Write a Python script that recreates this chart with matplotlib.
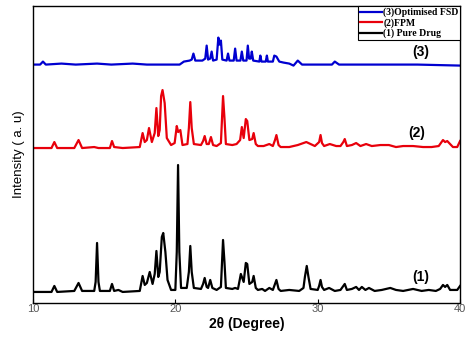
import numpy as np
import matplotlib
matplotlib.use("Agg")
import matplotlib.pyplot as plt
from matplotlib.lines import Line2D

# Difratogramas: (2theta, intensidade relativa à linha de base)
pure_drug_2theta = [10.0, 11.3, 11.5, 11.7, 12.9, 13.2, 13.45, 14.3, 14.4, 14.5, 14.6, 14.7, 15.4, 15.55, 15.7,
                    16.0, 16.3, 17.5, 17.7, 17.85, 18.0, 18.2, 18.4, 18.55, 18.67, 18.8, 18.9, 19.05, 19.15,
                    19.3, 19.45, 19.7, 20.0, 20.1, 20.19, 20.28, 20.4, 20.8, 20.95, 21.05, 21.15, 21.3, 21.8,
                    21.95, 22.06, 22.2, 22.3, 22.45, 22.6, 22.9, 23.2, 23.28, 23.35, 23.45, 23.55, 24.0, 24.2,
                    24.4, 24.6, 24.8, 24.95, 25.05, 25.2, 25.4, 25.5, 25.65, 25.8, 26.1, 26.3, 26.6, 26.85,
                    27.0, 27.1, 27.25, 27.4, 28.0, 28.7, 29.0, 29.1, 29.23, 29.35, 29.5, 30.0, 30.1, 30.2,
                    30.3, 30.45, 30.8, 31.2, 31.6, 31.8, 31.9, 32.05, 32.4, 32.7, 32.9, 33.1, 33.35, 33.6,
                    34.0, 34.5, 35.1, 35.5, 36.0, 36.7, 37.3, 37.8, 38.3, 38.6, 38.8, 38.95, 39.1, 39.3,
                    39.8, 40.0]
pure_drug_int = [0, 0, 6, 0, 1, 9, 1, 1, 10, 49, 10, 1, 1, 8, 1,
                 2, 0, 1, 16, 7, 9, 20, 8, 18, 41, 15, 20, 55, 59,
                 40, 12, 2, 2, 40, 127, 40, 4, 4, 20, 46, 20, 4, 3,
                 8, 14, 5, 4, 12, 4, 2, 5, 30, 52, 30, 4, 3, 4,
                 3, 18, 10, 29, 28, 8, 10, 16, 4, 2, 3, 1, 4, 2,
                 8, 12, 3, 1, 2, 1, 4, 15, 26, 15, 3, 2, 6, 12,
                 5, 2, 4, 1, 2, 6, 8, 2, 3, 5, 2, 5, 2, 4,
                 1, 2, 4, 2, 1, 3, 1, 2, 1, 3, 7, 5, 7, 2,
                 2, 6]

fpm_2theta = [10.0, 11.3, 11.5, 11.7, 12.9, 13.2, 13.45, 14.3, 14.6, 15.4, 15.55, 15.7, 16.3, 17.5, 17.7,
              17.85, 18.0, 18.15, 18.35, 18.55, 18.67, 18.8, 18.9, 19.0, 19.1, 19.25, 19.4, 19.7, 19.95,
              20.1, 20.2, 20.35, 20.5, 20.85, 20.95, 21.05, 21.15, 21.3, 21.8, 21.95, 22.06, 22.2, 22.35,
              22.5, 22.65, 22.9, 23.2, 23.28, 23.35, 23.45, 23.55, 24.0, 24.3, 24.55, 24.67, 24.8, 24.95,
              25.05, 25.2, 25.4, 25.5, 25.65, 25.8, 26.2, 26.6, 26.85, 27.0, 27.1, 27.25, 27.4, 28.0,
              28.6, 29.2, 29.8, 30.1, 30.2, 30.3, 30.45, 30.85, 31.3, 31.6, 31.8, 31.9, 32.05, 32.4,
              32.7, 33.0, 33.4, 33.8, 34.4, 35.0, 35.5, 36.0, 36.7, 37.4, 38.0, 38.5, 38.8, 38.95,
              39.1, 39.5, 39.8, 40.0]
fpm_int = [0, 0, 6, 0, 0, 8, 0, 1, 0, 0, 7, 1, 0, 1, 15,
           6, 8, 20, 6, 15, 40, 12, 18, 52, 58, 45, 10, 3, 5,
           22, 16, 18, 3, 4, 20, 46, 20, 4, 3, 7, 12, 4, 4,
           11, 3, 2, 5, 30, 52, 30, 4, 3, 4, 8, 21, 10, 29,
           27, 8, 9, 15, 4, 2, 2, 4, 2, 8, 13, 3, 1, 1,
           3, 6, 2, 6, 13, 5, 2, 4, 2, 2, 6, 9, 2, 3,
           5, 2, 4, 2, 3, 3, 1, 2, 2, 1, 1, 2, 8, 6,
           7, 1, 1, 7]

fsd_2theta = [10.0, 10.5, 10.7, 10.9, 12.0, 13.0, 14.5, 15.5, 17.0, 18.0, 19.5, 20.3, 20.6, 21.0, 21.15,
              21.27, 21.4, 21.9, 22.1, 22.2, 22.3, 22.45, 22.55, 22.65, 22.9, 23.02, 23.1, 23.2, 23.3,
              23.6, 23.7, 23.8, 24.1, 24.2, 24.3, 24.57, 24.67, 24.77, 25.0, 25.09, 25.18, 25.3, 25.37,
              25.47, 25.9, 25.97, 26.05, 26.35, 26.43, 26.5, 26.85, 26.95, 27.1, 27.3, 27.6, 28.0, 28.3,
              28.6, 28.9, 29.5, 31.0, 31.2, 31.5, 33.0, 35.0, 37.0, 40.0]
fsd_int = [0, 0, 3, 0, 1, 0, 1, 0, 1, 0, 0, 0, 3, 4, 5,
           11, 4, 4, 6, 19, 5, 6, 13, 4, 5, 27, 20, 24, 5,
           4, 11, 4, 4, 16, 4, 4, 13, 4, 4, 19, 6, 6, 13,
           4, 3, 9, 3, 3, 9, 3, 3, 9, 8, 3, 2, 1, -1,
           4, 0, 0, 0, 3, 0, 0, 0, 0, -1]

legend_labels = ["(3)Optimised FSD", "(2)FPM", "(1) Pure Drug"]
curve_tags = ["(3)", "(2)", "(1)"]

# deslocamentos verticais de cada curva (empilhamento)
offset_pure = 11
offset_fpm = 155
offset_fsd = 238.5

fig = plt.figure(figsize=(4.74, 3.40), dpi=100)
ax = fig.add_axes([0.0696, 0.109, 0.901, 0.873])

ax.plot(pure_drug_2theta, np.array(pure_drug_int) + offset_pure, color="black", lw=1.6)
ax.plot(fpm_2theta, np.array(fpm_int) + offset_fpm, color="#e8000b", lw=1.6)
ax.plot(fsd_2theta, np.array(fsd_int) + offset_fsd, color="#0000d0", lw=1.6)

ax.set_xlim(10, 40)
ax.set_ylim(0, 297)
ax.set_xticks([10, 20, 30, 40])
ax.set_yticks([])
ax.tick_params(axis="x", direction="in", length=3, pad=1, labelsize=8, labelcolor="#555555",
               labelfontfamily="Liberation Sans")
for s in ax.spines.values():
    s.set_linewidth(1.0)

ax.set_xlabel("2θ (Degree)", fontsize=10, fontweight="bold", family="Liberation Sans", labelpad=2)
ax.set_ylabel("Intensity ( a. u)", fontsize=9.5, family="Liberation Sans", labelpad=6)

# rótulos das curvas
ax.text(37.27, 251, curve_tags[0], ha="center", va="center", fontsize=10, fontweight="bold",
        family="Liberation Sans")
ax.text(36.98, 170, curve_tags[1], ha="center", va="center", fontsize=10, fontweight="bold",
        family="Liberation Sans")
ax.text(37.27, 26, curve_tags[2], ha="center", va="center", fontsize=10, fontweight="bold",
        family="Liberation Sans")

handles = [Line2D([], [], color="#0000d0", lw=1.6),
           Line2D([], [], color="#e8000b", lw=1.6),
           Line2D([], [], color="black", lw=1.6)]
leg = ax.legend(handles, legend_labels, loc="upper right", borderaxespad=0, fancybox=False,
                handlelength=2.3, handletextpad=0.1, labelspacing=0.1, borderpad=0.15,
                prop={"family": "Liberation Serif", "weight": "bold", "size": 7})
leg.get_frame().set_edgecolor("black")
leg.get_frame().set_linewidth(0.8)
leg.get_frame().set_alpha(1)

fig.savefig("out.png", dpi=100)
